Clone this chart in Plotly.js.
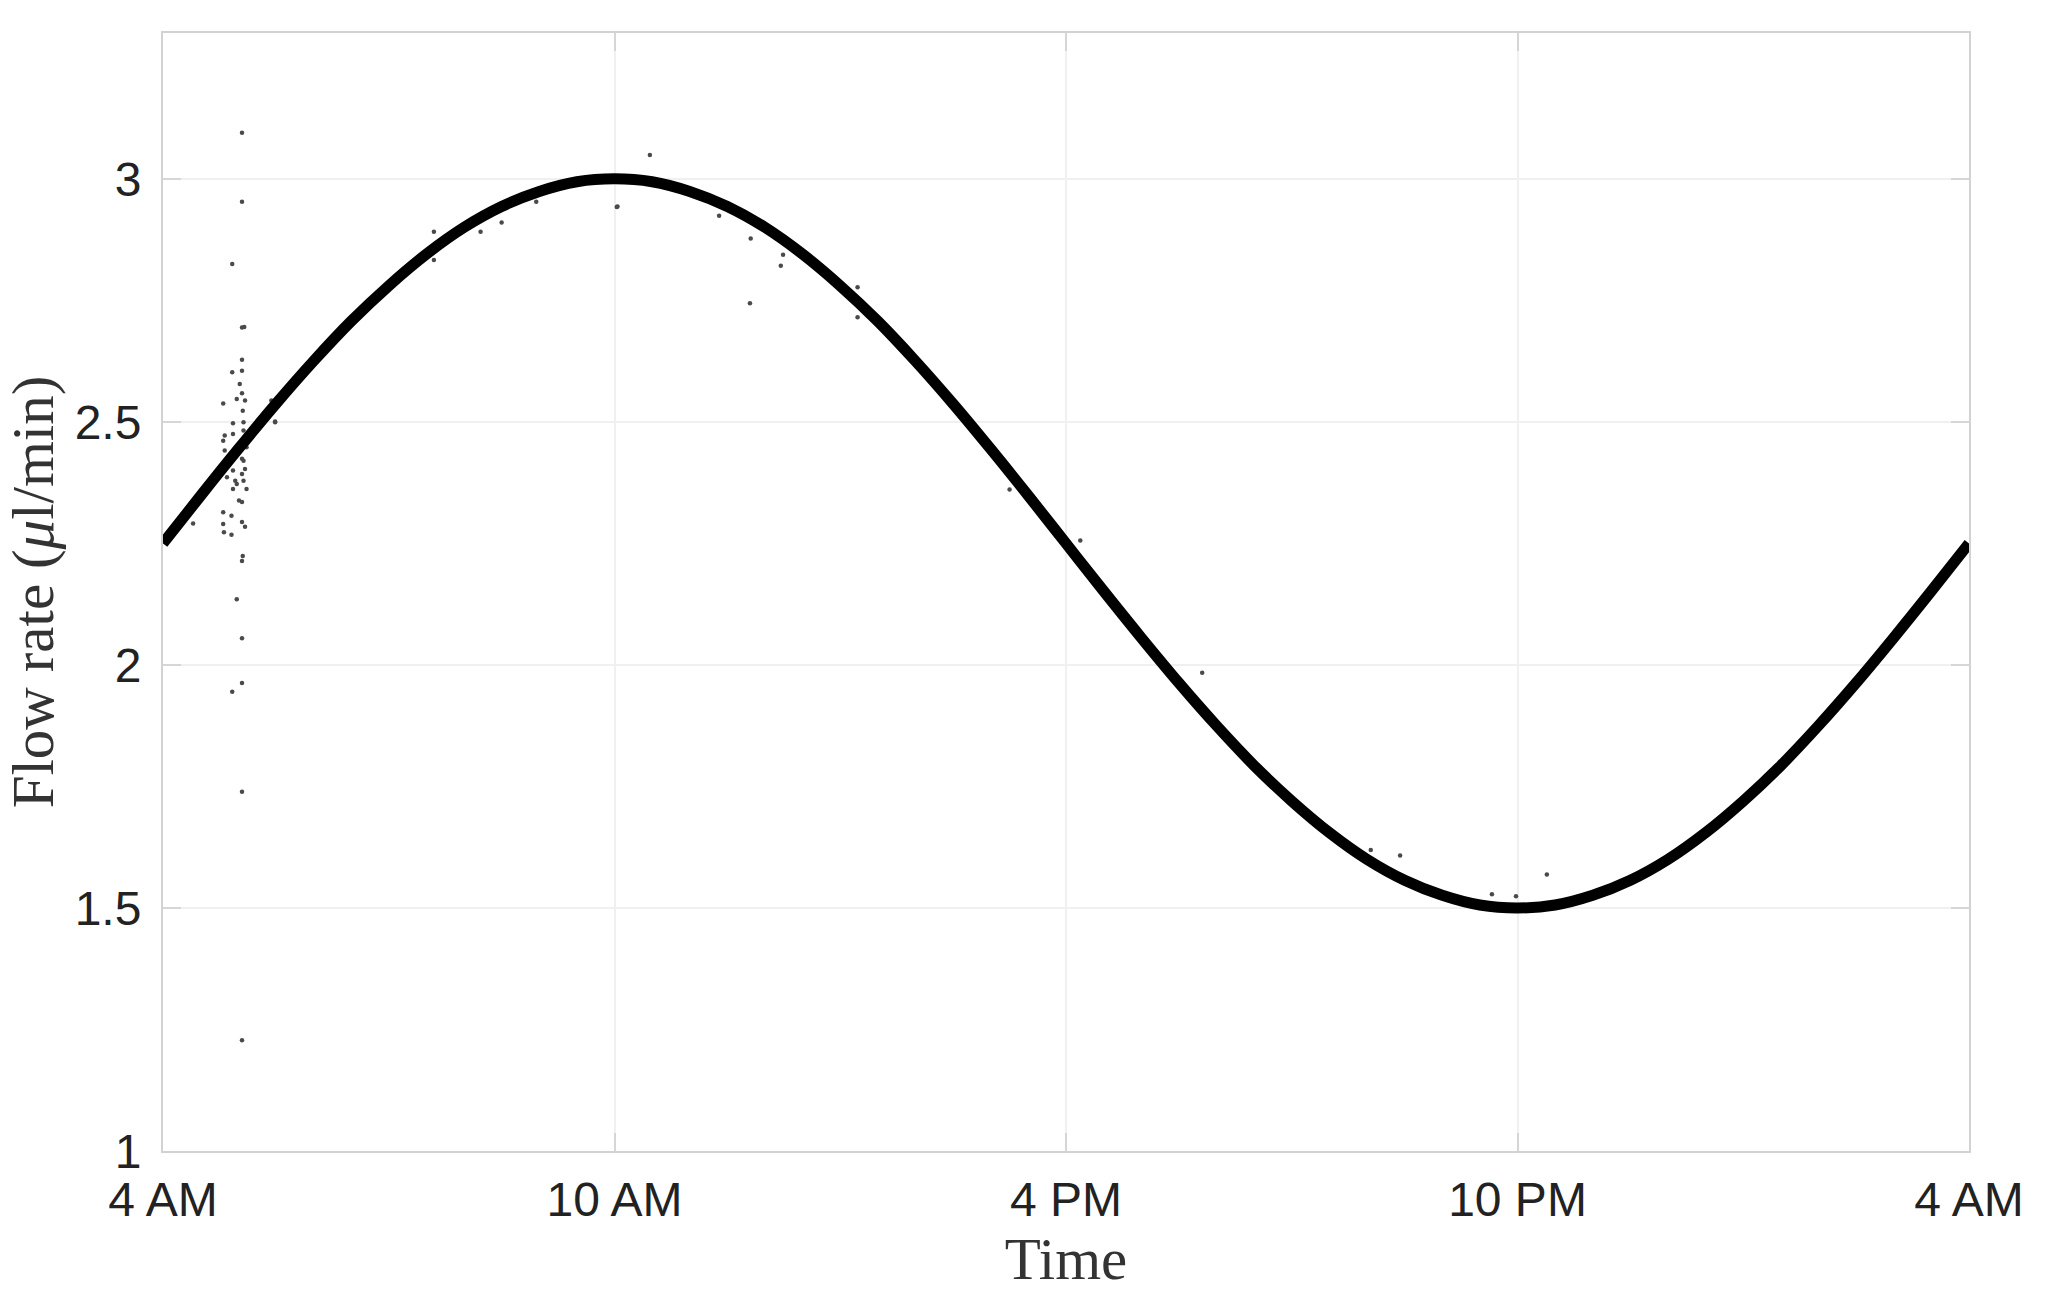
<!DOCTYPE html>
<html>
<head>
<meta charset="utf-8">
<script src="https://cdn.plot.ly/plotly-3.0.1.min.js"></script>
<style>
  html, body { margin: 0; padding: 0; background: #ffffff; }
  #chart { width: 2049px; height: 1292px; }
</style>
</head>
<body>
<div id="chart"></div>
<script>
// Main measured curve: time of day in hours (4 = 4 AM, 28 = 4 AM next day), flow rate in µl/min
const hours = [4, 4.5, 5, 5.5, 6, 6.5, 7, 7.5, 8, 8.5, 9, 9.5, 10, 10.5, 11, 11.5, 12, 12.5, 13, 13.5,
               14, 14.5, 15, 15.5, 16, 16.5, 17, 17.5, 18, 18.5, 19, 19.5, 20, 20.5, 21, 21.5, 22, 22.5,
               23, 23.5, 24, 24.5, 25, 25.5, 26, 26.5, 27, 27.5, 28];
const flowRate = [2.250, 2.348, 2.444, 2.537, 2.625, 2.707, 2.780, 2.845, 2.900, 2.943, 2.974, 2.994, 3.000,
                  2.994, 2.974, 2.943, 2.900, 2.845, 2.780, 2.707, 2.625, 2.537, 2.444, 2.348, 2.250,
                  2.152, 2.056, 1.963, 1.875, 1.793, 1.720, 1.655, 1.600, 1.557, 1.526, 1.506, 1.500,
                  1.506, 1.526, 1.557, 1.600, 1.655, 1.720, 1.793, 1.875, 1.963, 2.056, 2.152, 2.250];

// Scattered individual readings away from the main band
const outlierHours = [5.05, 5.05, 4.92, 5.08, 5.05, 4.92, 5.05, 4.40, 5.05, 4.98, 5.05, 5.05, 4.92, 5.05, 5.05,
                      5.02, 5.05, 4.80, 4.98, 5.09, 5.06, 5.44, 5.49, 4.93, 5.07, 4.82, 4.80, 4.93, 5.07,
                      4.82, 5.05, 5.09, 4.93, 4.85, 4.96, 5.05, 5.07, 5.11, 4.93, 4.98, 5.01, 5.05, 4.80,
                      4.91, 5.05, 4.80, 5.09, 4.81, 4.91, 5.06, 5.07, 5.11, 4.93, 5.05, 5.49,
                      7.60, 7.60, 8.22, 8.50, 8.96, 10.04, 10.47, 10.03, 11.80, 12.21, 11.81, 11.39,
                      13.23, 13.23, 12.24, 15.25, 16.19, 17.81, 20.44, 22.39, 21.98, 21.66, 20.05];
const outlierFlow = [3.095, 2.953, 2.825, 2.695, 2.628, 2.602, 2.605, 2.291, 2.214, 2.135, 2.055, 1.963, 1.945, 1.739, 1.228,
                     2.578, 2.559, 2.538, 2.547, 2.544, 2.523, 2.544, 2.499, 2.497, 2.499, 2.472, 2.461, 2.475, 2.482,
                     2.441, 2.424, 2.403, 2.400, 2.386, 2.379, 2.393, 2.379, 2.362, 2.362, 2.372, 2.338, 2.335, 2.314,
                     2.307, 2.294, 2.290, 2.284, 2.273, 2.268, 2.224, 2.420, 2.448, 2.427, 2.694, 2.501,
                     2.891, 2.833, 2.891, 2.910, 2.953, 2.943, 3.049, 2.942, 2.744, 2.821, 2.877, 2.924,
                     2.777, 2.715, 2.844, 2.361, 2.256, 1.984, 1.608, 1.569, 1.524, 1.528, 1.619];

// Axis ticks
const xTickVals = [4, 10, 16, 22, 28];
const xTickText = ['4 AM', '10 AM', '4 PM', '10 PM', '4 AM'];
const yTickVals = [1, 1.5, 2, 2.5, 3];
const yTickText = ['1', '1.5', '2', '2.5', '3'];

const traces = [
  {
    x: outlierHours, y: outlierFlow,
    type: 'scatter', mode: 'markers',
    marker: { color: '#4a4a4a', size: 4.5 },
    hoverinfo: 'x+y', showlegend: false
  },
  {
    x: hours, y: flowRate,
    type: 'scatter', mode: 'lines',
    line: { color: '#000000', width: 11, shape: 'spline', smoothing: 1 },
    showlegend: false
  }
];

const axisCommon = {
  showline: true, linecolor: '#d2d2d2', linewidth: 2, mirror: 'ticks',
  ticks: 'inside', ticklen: 18, tickwidth: 2, tickcolor: '#d6d6d6',
  showgrid: true, gridcolor: '#f0f0f0', gridwidth: 2,
  zeroline: false,
  tickfont: { family: 'Liberation Sans, Arial, sans-serif', size: 48, color: '#222222' }
};

const layout = {
  width: 2049, height: 1292,
  paper_bgcolor: '#ffffff', plot_bgcolor: '#ffffff',
  margin: { l: 163, r: 80, t: 33, b: 141 },
  xaxis: Object.assign({}, axisCommon, {
    range: [4, 28],
    tickmode: 'array', tickvals: xTickVals, ticktext: xTickText,
    ticklabelstandoff: 5,
    title: { text: 'Time', font: { family: 'Liberation Serif, Times New Roman, serif', size: 59, color: '#333333' }, standoff: 0 }
  }),
  yaxis: Object.assign({}, axisCommon, {
    range: [1, 3.3],
    tickmode: 'array', tickvals: yTickVals, ticktext: yTickText,
    ticklabelstandoff: 10,
    title: { text: 'Flow rate (<i>μ</i>l/min)', font: { family: 'Liberation Serif, Times New Roman, serif', size: 59, color: '#333333' }, standoff: 2 }
  })
};

Plotly.newPlot('chart', traces, layout, { displayModeBar: false, staticPlot: true });
</script>
</body>
</html>
